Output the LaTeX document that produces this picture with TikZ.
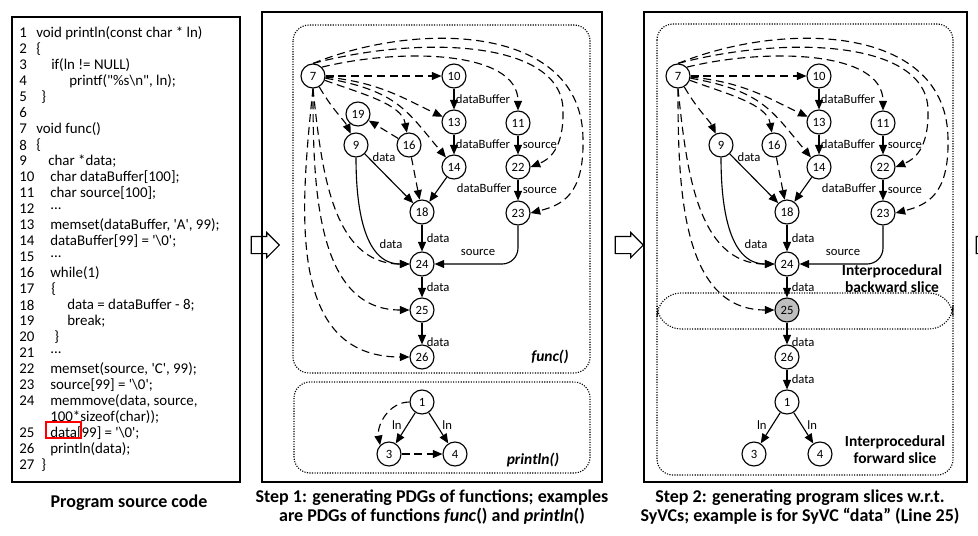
\documentclass[tikz,border=0pt]{standalone}
\usepackage{fontspec}
\setmainfont{Carlito}
\usetikzlibrary{arrows.meta,
                shapes.arrows,
                positioning}
\tikzset{% styles of the PDG pictures
    pdg/.style  = {circle, draw, thick, fill=white, minimum size=6mm, inner sep=0pt,
                   font=\fontsize{9}{10}\selectfont},
    dep/.style  = {draw, thick, -{Triangle[length=2.4mm,width=2mm]}},
    ctrl/.style = {dep, dash pattern=on 2mm off 1.2mm},
    lbl/.style  = {font=\fontsize{9}{10}\selectfont, inner sep=1pt},
    code/.style = {anchor=west, inner sep=0pt, font=\fontsize{10.6}{12}\selectfont},
    panel/.style = {draw, thick},
    region/.style = {draw, densely dotted, thick, rounded corners=4mm},
    caption/.style = {align=center, font=\fontsize{12.8}{14}\selectfont\bfseries},
    slice/.style = {align=center, font=\fontsize{11}{12}\selectfont\bfseries},
    bigarrow/.style = {single arrow, draw, thick, fill=white, minimum height=7mm,
                       minimum width=5.5mm, single arrow head extend=1mm, inner xsep=0pt,
                       inner ysep=2mm}
    }
\begin{document}
\begin{tikzpicture}[x=0.025cm, y=-0.025cm]
\useasboundingbox (0,0) rectangle (978,535);
% source code
\draw [panel] (12,17) rectangle (240,482);
\foreach \n/\x/\t [count=\i] in {
    1/36/{void println(const char * ln)}, 2/36/\{, 3/51/{if(ln != NULL)},
    4/69/{printf(\textquotedbl\%s\textbackslash n\textquotedbl, ln);},
    5/41/\}, 6/36/{}, 7/36/{void func()}, 8/36/\{, 9/48/{char *data;},
    10/50/{char dataBuffer[100];}, 11/50/{char source[100];}, 12/50/{...},
    13/50/{memset(dataBuffer, \textquotesingle A\textquotesingle, 99);},
    14/50/{dataBuffer[99] = \textquotesingle\textbackslash 0\textquotesingle;},
    15/50/{...}, 16/50/{while(1)}, 17/51/\{, 18/67/{data = dataBuffer - 8;},
    19/67/{break;}, 20/54/\}, 21/50/{...},
    22/50/{memset(source, \textquotesingle C\textquotesingle, 99);},
    23/50/{source[99] = \textquotesingle\textbackslash 0\textquotesingle;},
    24/50/{memmove(data, source,}, {}/50/{100*sizeof(char));},
    25/50/{data[99] = \textquotesingle\textbackslash 0\textquotesingle;},
    26/50/{println(data);}, 27/41/\}}
{
    \node [code] (num\i) at (19,{33+16*(\i-1)}) {\n};
    \node [code] (line\i) at (\x,{33+16*(\i-1)}) {\t};
}
\draw [red, thick] (46,422) rectangle (81,438);
\node [caption] (cap0) at (129,503) {Program source code};
% block arrows between the steps
\node [bigarrow] (arr1) at (261,245) {};
\node [bigarrow] (arr2) at (625,245) {};
\node [bigarrow] (arr3) at (986,245) {};
% step 1 and step 2 panels
\draw [panel] (262,12) rectangle (602,482);
\draw [region] (293,25) rectangle (590,373);
\draw [region] (294,382) rectangle (590,473);
\node [font=\fontsize{11}{12}\selectfont\bfseries\itshape] (funcname) at (550,357) {func()};
\node [font=\fontsize{11}{12}\selectfont\bfseries\itshape] (printname) at (533,460) {println()};
\node [caption] (cap1) at (432,507) {Step 1: generating PDGs of functions; examples\\
      are PDGs of functions \textit{func}() and \textit{println}()};
\draw [panel] (644,12) rectangle (967,482);
\draw [region] (657,24) rectangle (953,475);
\draw [region, rounded corners=6mm] (657,293) rectangle (953,329);
\node [slice] (back) at (892,279) {Interprocedural\\backward slice};
\node [slice] (fwd) at (895,450) {Interprocedural\\forward slice};
\node [caption] (cap2) at (800,507) {Step 2: generating program slices w.r.t.\\
      SyVCs; example is for SyVC \textquotedblleft data\textquotedblright{} (Line 25)};
% the PDG of func() and println(), twice
\foreach \s/\p/\f in {0/m/white, 365/r/black!25}
{
\begin{scope}[shift={(\s,0)}, name prefix=\p-]
\node [pdg] (7)  at (313,76)  {7};
\node [pdg] (10) at (454,76)  {10};
\node [pdg] (13) at (454,122) {13};
\node [pdg] (11) at (518,123) {11};
\node [pdg] (9)  at (356,145) {9};
\node [pdg] (16) at (409,145) {16};
\node [pdg] (14) at (454,167) {14};
\node [pdg] (22) at (518,167) {22};
\node [pdg] (18) at (422,212) {18};
\node [pdg] (23) at (518,213) {23};
\node [pdg] (24) at (422,264) {24};
\node [pdg, fill=\f] (25) at (422,310) {25};
\node [pdg] (26) at (422,357) {26};
\node [pdg] (1)  at (422,402) {1};
\node [pdg] (3)  at (389,454) {3};
\node [pdg] (4)  at (455,454) {4};
% control dependences
\path [ctrl] (7) -- (10);
\path [ctrl] (7) to[out=-5, in=155] (13);
\path [ctrl] (7) to[out=-10, in=130, looseness=1.2] (14);
\path [ctrl] (7) to[out=-20, in=100] (16);
\path [ctrl] (7) to[out=-60, in=115] (9);
\path [ctrl] (7.north east) .. controls (400,48) and (518,50) .. (11.north);
\path [ctrl] (7.north) .. controls (420,35) and (562,40) .. (563,110)
             .. controls (564,150) and (548,160) .. (22.east);
\path [ctrl] (7.north) .. controls (420,20) and (583,25) .. (583,140)
             .. controls (584,195) and (562,205) .. (23.east);
\path [ctrl] (7.south) to[out=-84, in=180] (24.west);
\path [ctrl] (7.south) to[out=-90, in=180] (25.west);
\path [ctrl] (16) -- (18);
% data dependences
\path [dep] (10) -- node [lbl, right] {dataBuffer} (13);
\path [dep] (13) -- node [lbl, right] {dataBuffer} (14);
\path [dep] (11) -- node [lbl, right, xshift=2] {source} (22);
\path [dep] (22) -- node [lbl, right, xshift=2] {source} (23);
\path [dep] (14) -- (18);
\node [lbl] (lb14) at (484,188) {dataBuffer};
\path [dep] (9) -- (18);
\node [lbl] (lb9) at (384,157) {data};
\path [dep] (18) -- node [lbl, right, xshift=2] {data} (24);
\path [dep] (9.south) to[out=-90, in=180] (24.west);
\node [lbl] (lb924) at (391,244) {data};
\path [dep, rounded corners=4mm] (23.south) |- (24.east);
\node [lbl] (lb23) at (478,252) {source};
\path [dep] (24) -- node [lbl, right, xshift=2] {data} (25);
\path [dep] (25) -- node [lbl, right, xshift=2, yshift=-6] {data} (26);
\path [dep] (1) -- node [lbl, above left, pos=.6] {ln} (3);
\path [dep] (1) -- node [lbl, above right, pos=.6] {ln} (4);
\end{scope}
}
% only in step 1
\node [pdg] (m-19) at (358,114) {19};
\path [ctrl] (m-16) -- (m-19);
\path [ctrl] (m-7.south) to[out=-96, in=180, looseness=1.1] (m-26.west);
\path [ctrl] (m-1.west) to[out=180, in=100] (m-3.north west);
\path [ctrl] (m-3) -- (m-4);
% only in step 2
\path [dep] (r-26) -- node [lbl, right, xshift=2] {data} (r-1);
\end{tikzpicture}
\end{document}
